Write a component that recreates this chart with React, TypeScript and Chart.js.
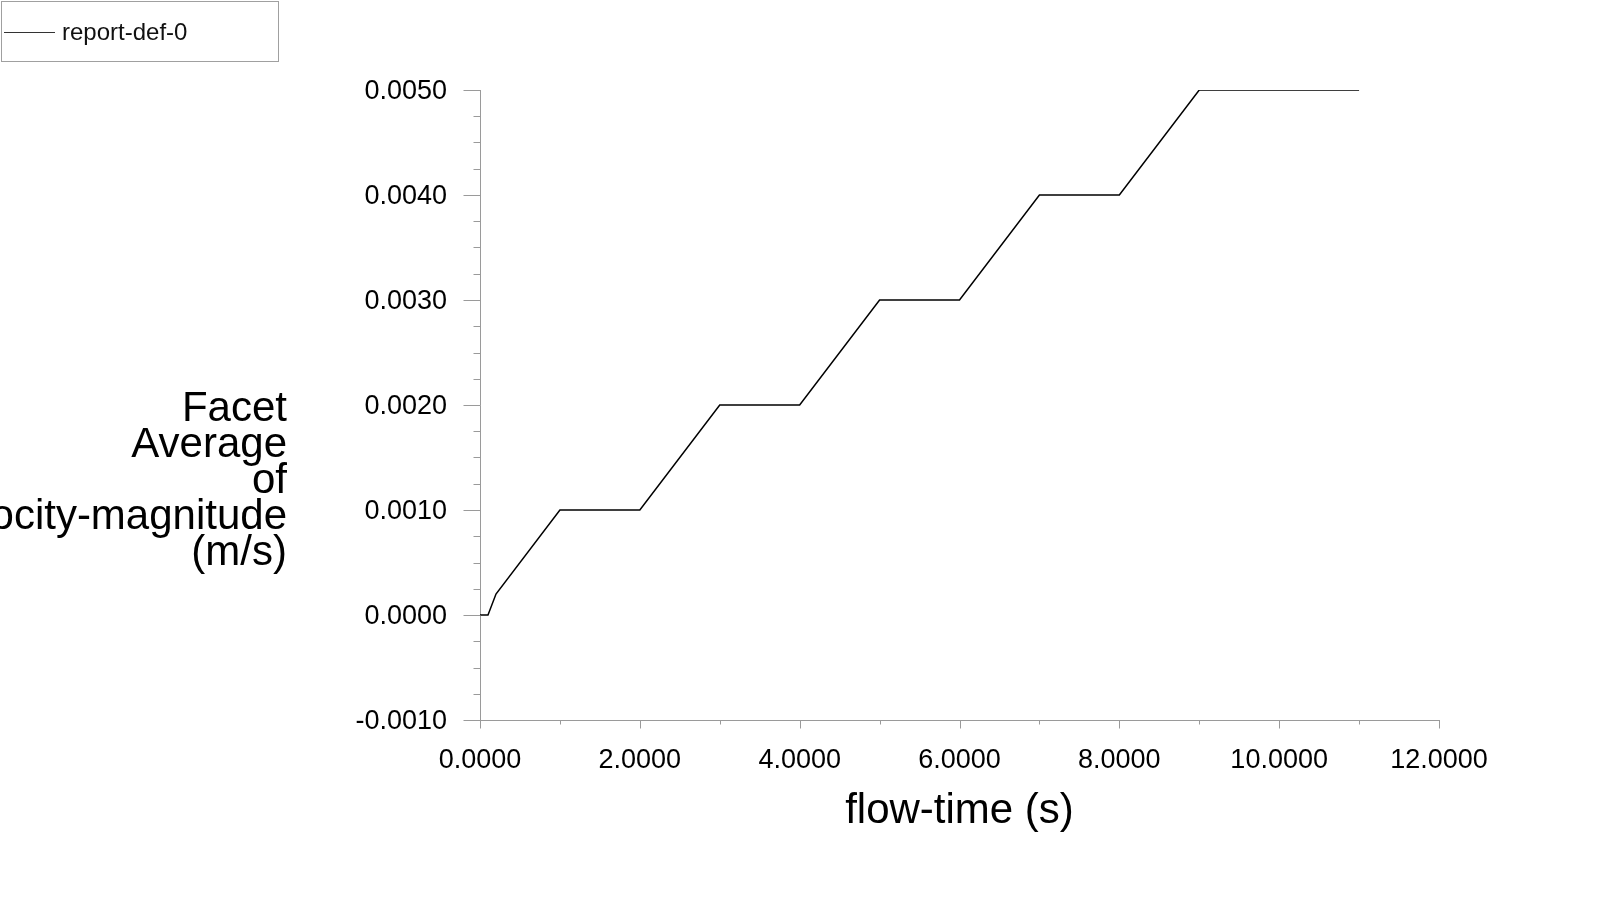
import React, { useEffect, useRef } from "react";
import { Chart, registerables } from "chart.js";

Chart.register(...registerables);

const seriesLabel = "report-def-0";
const flowTime = [0, 0.1, 0.2, 1, 2, 3, 4, 5, 6, 7, 8, 9, 11];
const velocity = [0, 0, 0.0002, 0.001, 0.001, 0.002, 0.002, 0.003, 0.003, 0.004, 0.004, 0.005, 0.005];
const yTitleLines = ["Facet", "Average", "of", "velocity-magnitude", "(m/s)"];
const xTitle = "flow-time (s)";

const FONT = "'Liberation Sans', Arial, sans-serif";
const AXIS_COLOR = "#9a9a9a";

const decorPlugin = {
  id: "decor",
  afterDraw(chart: any) {
    const ctx = chart.ctx;
    const xs = chart.scales.x;
    const ys = chart.scales.y;
    ctx.save();
    // ticks
    ctx.strokeStyle = AXIS_COLOR;
    ctx.lineWidth = 1;
    const x0 = Math.round(xs.left) + 0.5;
    for (let i = -4; i <= 20; i++) {
      const v = i * 0.00025;
      const py = Math.round(ys.getPixelForValue(v)) + 0.5;
      const major = i % 4 === 0;
      ctx.beginPath();
      ctx.moveTo(x0 - (major ? 17 : 7), py);
      ctx.lineTo(x0, py);
      ctx.stroke();
    }
    const yb = Math.round(ys.bottom) + 0.5;
    for (let i = 0; i <= 12; i++) {
      const px = Math.round(xs.getPixelForValue(i)) + 0.5;
      const major = i % 2 === 0;
      ctx.beginPath();
      ctx.moveTo(px, yb);
      ctx.lineTo(px, yb + (major ? 8 : 4));
      ctx.stroke();
    }
    // x title
    ctx.fillStyle = "#000";
    ctx.font = `42px ${FONT}`;
    ctx.textAlign = "center";
    ctx.textBaseline = "alphabetic";
    ctx.fillText(xTitle, (xs.left + xs.right) / 2, 823);
    // y title
    ctx.textAlign = "right";
    yTitleLines.forEach((t, i) => {
      ctx.fillText(t, 287, 421 + i * 36);
    });
    // legend
    ctx.strokeStyle = "#a0a0a0";
    ctx.strokeRect(1.5, 1.5, 277, 60);
    ctx.strokeStyle = "#333";
    ctx.beginPath();
    ctx.moveTo(4, 32.5);
    ctx.lineTo(55, 32.5);
    ctx.stroke();
    ctx.font = `24px ${FONT}`;
    ctx.textAlign = "left";
    ctx.fillStyle = "#111";
    ctx.fillText(seriesLabel, 62, 40);
    ctx.restore();
  },
};

export default function App() {
  const ref = useRef<HTMLCanvasElement>(null);
  useEffect(() => {
    if (!ref.current) return;
    const chart = new Chart(ref.current, {
      type: "line",
      data: {
        datasets: [
          {
            label: seriesLabel,
            data: flowTime.map((t, i) => ({ x: t, y: velocity[i] })),
            borderColor: "#000",
            borderWidth: 1.5,
            pointRadius: 0,
            fill: false,
            tension: 0,
          },
        ],
      },
      options: {
        responsive: false,
        animation: false,
        layout: { padding: { left: 0, right: 161, top: 90, bottom: 0 } },
        plugins: { legend: { display: false }, tooltip: { enabled: false } },
        scales: {
          x: {
            type: "linear",
            min: 0,
            max: 12,
            afterFit: (s: any) => {
              s.height = 180;
            },
            grid: { display: false, drawTicks: false },
            border: { display: true, color: AXIS_COLOR, width: 1 },
            ticks: {
              stepSize: 2,
              padding: 24,
              color: "#000",
              font: { family: FONT, size: 27 },
              maxRotation: 0,
              autoSkip: false,
              callback: (v: any) => Number(v).toFixed(4),
            },
          },
          y: {
            type: "linear",
            min: -0.001,
            max: 0.005,
            afterFit: (s: any) => {
              s.width = 480;
            },
            grid: { display: false, drawTicks: false },
            border: { display: true, color: AXIS_COLOR, width: 1 },
            ticks: {
              stepSize: 0.001,
              padding: 33,
              labelOffset: 2,
              color: "#000",
              font: { family: FONT, size: 27 },
              callback: (v: any) => Number(v).toFixed(4),
            },
          },
        },
      },
      plugins: [decorPlugin],
    });
    return () => chart.destroy();
  }, []);
  return (
    <div style={{ position: "fixed", left: 0, top: 0, width: 1600, height: 900, background: "#fff" }}>
      <canvas ref={ref} width={1600} height={900} style={{ width: 1600, height: 900, display: "block" }} />
    </div>
  );
}
